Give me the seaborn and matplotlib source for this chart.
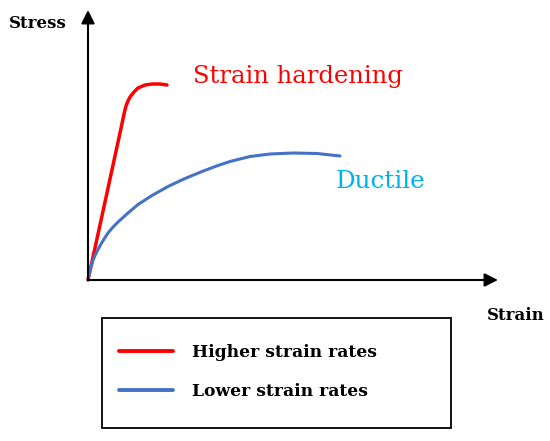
import numpy as np
import pandas as pd
import matplotlib
matplotlib.use("Agg")
import matplotlib.pyplot as plt
from matplotlib.patches import Rectangle
import seaborn as sns

# Curve readings (strain, stress) in picture units, origin at the axes corner
HIGH_STRAIN = [0, 17, 33.7, 36, 38, 40, 42, 46, 50, 57, 64, 72, 79]
HIGH_STRESS = [0, 78, 155, 166, 174, 179, 183, 188, 192, 195, 196, 196, 195]

LOW_STRAIN = [0, 1, 2, 3.5, 5, 7, 10, 13, 17, 20, 24, 30, 40, 50, 64, 80, 97, 114, 130, 142, 162, 182, 205, 229, 252]
LOW_STRESS = [0, 5, 9.3, 14.8, 19.5, 24.5, 30.5, 36, 42.5, 47, 51.8, 58, 67, 75.5, 84.5, 93.5, 101.5, 108.5, 114.5, 118.5, 123.5, 126, 127, 126.5, 124]

SERIES = ["Higher strain rates", "Lower strain rates"]
COLORS = ["#ff0000", "#4472c4"]

df = pd.concat([
    pd.DataFrame({"strain": HIGH_STRAIN, "stress": HIGH_STRESS, "rate": SERIES[0]}),
    pd.DataFrame({"strain": LOW_STRAIN, "stress": LOW_STRESS, "rate": SERIES[1]}),
])

sns.set_style("white")
plt.rcParams["font.family"] = ["DejaVu Serif"]
plt.rcParams["text.color"] = "black"

fig = plt.figure(figsize=(5.5, 4.41), dpi=100)
ax = fig.add_axes([0, 0, 1, 1])

sns.lineplot(data=df, x="strain", y="stress", hue="rate", palette=COLORS,
             sort=False, estimator=None, linewidth=2.2, ax=ax, legend=False)
ax.lines[0].set_linewidth(2.5)
for ln in ax.lines:
    ln.set_solid_joinstyle("round")
    ln.set_solid_capstyle("round")

ax.set_xlim(-88, 462)
ax.set_ylim(-161, 280)
ax.axis("off")

# axes arrows
arrow = dict(arrowstyle="-|>", color="black", lw=1.5, mutation_scale=20, shrinkA=0, shrinkB=0)
ax.annotate("", xy=(0, 270), xytext=(0, 0), arrowprops=arrow)
ax.annotate("", xy=(410, 0), xytext=(0, 0), arrowprops=arrow)

ax.text(-79, 256, "Stress", fontsize=12, fontweight="bold", va="center", ha="left")
ax.text(399, -35, "Strain", fontsize=12, fontweight="bold", va="center", ha="left")
ax.text(105, 203, "Strain hardening", fontsize=17.5, color="#ff0000", va="center", ha="left")
ax.text(248, 98, "Ductile", fontsize=17.7, color="#00b0f0", va="center", ha="left")

# legend box
fig.patches.append(Rectangle((102 / 550, 1 - 428 / 441), 349 / 550, 110 / 441,
                             transform=fig.transFigure, fill=False,
                             edgecolor="black", linewidth=1.3))

handles = [plt.Line2D([], [], color=c, lw=2.8) for c in COLORS]
leg = fig.legend(handles, SERIES, loc="upper left",
                 bbox_to_anchor=(119 / 550, 1 - 344 / 441),
                 frameon=False,
                 prop={"family": "DejaVu Serif", "weight": "bold", "size": 12.3},
                 handlelength=3.15, handletextpad=1.1, borderpad=0,
                 labelspacing=1.3, borderaxespad=0)

plt.savefig("out.png", dpi=100)
